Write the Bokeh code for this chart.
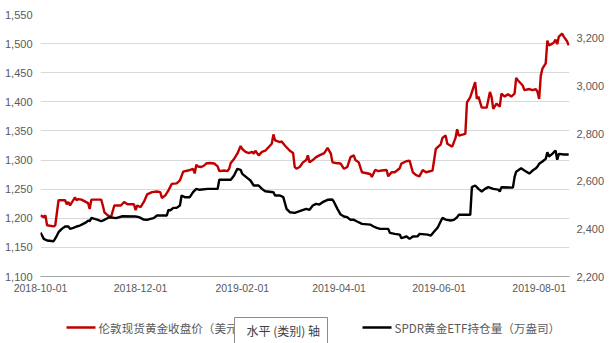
import pandas as pd
from bokeh.plotting import figure
from bokeh.layouts import column
from bokeh.models import (Range1d, LinearAxis, FixedTicker, NumeralTickFormatter,
                          DatetimeTickFormatter, ColumnDataSource)
from bokeh.core.properties import value
from bokeh.embed import file_html
from bokeh.resources import INLINE

# ---------------- data ----------------
gold_label = "伦敦现货黄金收盘价（美元/盎司）"
etf_label = "SPDR黄金ETF持仓量（万盎司）"

gold_dates = ["2018-10-01","2018-10-03","2018-10-04","2018-10-05","2018-10-09","2018-10-10","2018-10-12","2018-10-16",
"2018-10-17","2018-10-18","2018-10-19","2018-10-21","2018-10-22","2018-10-23","2018-10-24","2018-10-26","2018-10-28",
"2018-10-30","2018-10-31","2018-11-01","2018-11-07","2018-11-08","2018-11-09","2018-11-11","2018-11-13","2018-11-15",
"2018-11-19","2018-11-21","2018-11-23","2018-11-27","2018-11-28","2018-11-29","2018-12-01","2018-12-03","2018-12-05",
"2018-12-08","2018-12-11","2018-12-13","2018-12-14","2018-12-16","2018-12-18","2018-12-20","2018-12-23","2018-12-25",
"2018-12-27","2018-12-30","2019-01-02","2019-01-03","2019-01-04","2019-01-05","2019-01-07","2019-01-09","2019-01-10",
"2019-01-12","2019-01-15","2019-01-17","2019-01-18","2019-01-21","2019-01-23","2019-01-24","2019-01-25","2019-01-27",
"2019-01-29","2019-01-31","2019-02-01","2019-02-03","2019-02-05","2019-02-07","2019-02-08","2019-02-09","2019-02-11",
"2019-02-13","2019-02-15","2019-02-17","2019-02-19","2019-02-20","2019-02-21","2019-02-24","2019-02-25","2019-02-27",
"2019-03-02","2019-03-04","2019-03-05","2019-03-06","2019-03-08","2019-03-10","2019-03-12","2019-03-13","2019-03-14",
"2019-03-16","2019-03-18","2019-03-20","2019-03-23","2019-03-25","2019-03-27","2019-03-28","2019-03-30","2019-04-02",
"2019-04-04","2019-04-06","2019-04-08","2019-04-10","2019-04-11","2019-04-13","2019-04-15","2019-04-20","2019-04-21",
"2019-04-23","2019-04-25","2019-04-27","2019-04-30","2019-05-01","2019-05-03","2019-05-05","2019-05-08","2019-05-09",
"2019-05-12","2019-05-14","2019-05-16","2019-05-18","2019-05-20","2019-05-22","2019-05-24","2019-05-28","2019-05-30",
"2019-06-02","2019-06-03","2019-06-05","2019-06-06","2019-06-09","2019-06-11","2019-06-12","2019-06-13","2019-06-17",
"2019-06-18","2019-06-20","2019-06-23","2019-06-24","2019-06-25","2019-06-27","2019-06-30","2019-07-02","2019-07-03",
"2019-07-04","2019-07-06","2019-07-08","2019-07-09","2019-07-11","2019-07-13","2019-07-15","2019-07-17","2019-07-18",
"2019-07-19","2019-07-21","2019-07-22","2019-07-23","2019-07-26","2019-07-28","2019-07-30","2019-07-31","2019-08-01",
"2019-08-02","2019-08-03","2019-08-05","2019-08-06","2019-08-07","2019-08-09","2019-08-10","2019-08-11","2019-08-12",
"2019-08-13","2019-08-15","2019-08-16","2019-08-18","2019-08-19"]
gold_prices = [1205,1202,1205,1188,1186,1188,1231,1231,
1224,1228,1222,1231,1236,1231,1233,1232,1229,
1226,1216,1232,1232,1222,1210,1205,1202,1222,
1222,1228,1224,1224,1214,1222,1219,1228,1241,
1245,1246,1245,1235,1239,1248,1259,1260,1265,
1280,1282,1285,1277,1292,1289,1288,1291,1294,
1295,1294,1289,1281,1282,1281,1285,1295,1302,
1311,1324,1319,1314,1312,1314,1311,1316,1308,
1314,1316,1322,1328,1344,1334,1331,1332,1325,
1316,1312,1288,1285,1288,1296,1300,1308,1296,
1300,1305,1308,1312,1321,1311,1296,1295,1294,
1285,1288,1305,1308,1300,1296,1279,1276,1271,
1283,1281,1282,1283,1272,1279,1279,1286,1294,
1298,1299,1279,1274,1272,1283,1279,1282,1319,
1327,1338,1342,1328,1323,1338,1353,1342,1345,
1399,1408,1434,1405,1409,1390,1390,1417,1408,
1388,1397,1392,1414,1409,1413,1409,1414,1441,
1437,1431,1428,1420,1422,1420,1422,1417,1405,
1445,1457,1466,1505,1497,1500,1502,1507,1499,
1512,1517,1512,1504,1497]

etf_dates = ["2018-10-01","2018-10-02","2018-10-03","2018-10-05","2018-10-09","2018-10-11","2018-10-12","2018-10-14",
"2018-10-16","2018-10-18","2018-10-19","2018-10-21","2018-10-23","2018-10-25","2018-10-27","2018-10-29","2018-10-30",
"2018-10-31","2018-11-01","2018-11-03","2018-11-05","2018-11-07","2018-11-09","2018-11-12","2018-11-16","2018-11-20",
"2018-11-28","2018-11-30","2018-12-03","2018-12-05","2018-12-07","2018-12-09","2018-12-11","2018-12-17","2018-12-18",
"2018-12-19","2018-12-21","2018-12-23","2018-12-25","2018-12-26","2018-12-28","2018-12-31","2019-01-02","2019-01-04",
"2019-01-06","2019-01-11","2019-01-17","2019-01-18","2019-01-25","2019-01-27","2019-01-29","2019-01-31","2019-02-01",
"2019-02-04","2019-02-06","2019-02-08","2019-02-11","2019-02-13","2019-02-15","2019-02-20","2019-02-21","2019-02-24",
"2019-02-26","2019-02-28","2019-03-02","2019-03-05","2019-03-08","2019-03-12","2019-03-14","2019-03-16","2019-03-18",
"2019-03-20","2019-03-22","2019-03-25","2019-03-28","2019-03-29","2019-03-31","2019-04-02","2019-04-04","2019-04-06",
"2019-04-08","2019-04-10","2019-04-12","2019-04-15","2019-04-20","2019-04-22","2019-04-24","2019-04-26","2019-05-01",
"2019-05-02","2019-05-05","2019-05-08","2019-05-09","2019-05-11","2019-05-12","2019-05-14","2019-05-16","2019-05-19",
"2019-05-20","2019-05-25","2019-05-27","2019-05-29","2019-05-31","2019-06-03","2019-06-05","2019-06-08","2019-06-10",
"2019-06-12","2019-06-13","2019-06-20","2019-06-21","2019-06-23","2019-06-25","2019-06-27","2019-06-29","2019-07-01",
"2019-07-04","2019-07-07","2019-07-08","2019-07-09","2019-07-16","2019-07-17","2019-07-18","2019-07-21","2019-07-23",
"2019-07-26","2019-07-28","2019-07-30","2019-07-31","2019-08-01","2019-08-03","2019-08-05","2019-08-06","2019-08-07",
"2019-08-09","2019-08-11","2019-08-12","2019-08-13","2019-08-16","2019-08-19"]
etf_holdings = [2384,2372,2358,2351,2348,2372,2386,2400,
2410,2410,2400,2404,2410,2414,2421,2428,2435,
2432,2446,2442,2438,2432,2438,2449,2445,2453,
2452,2449,2439,2438,2442,2445,2456,2456,2480,
2477,2488,2488,2498,2540,2533,2533,2554,2568,
2564,2568,2568,2606,2606,2624,2652,2648,2631,
2614,2603,2582,2582,2568,2558,2554,2540,2540,
2533,2484,2470,2467,2474,2484,2480,2498,2505,
2502,2512,2522,2523,2512,2484,2460,2452,2449,
2438,2438,2431,2421,2418,2410,2404,2400,2400,
2383,2379,2376,2361,2365,2369,2358,2368,2369,
2379,2376,2372,2389,2404,2446,2439,2435,2438,
2449,2459,2459,2575,2582,2568,2557,2568,2575,
2568,2565,2557,2575,2573,2617,2640,2654,2645,
2632,2645,2654,2662,2673,2683,2694,2722,2704,
2715,2729,2690,2715,2712,2712]

x_tick_dates = ["2018-10-01","2018-12-01","2019-02-01","2019-04-01","2019-06-01","2019-08-01"]
left_ticks = [1100,1150,1200,1250,1300,1350,1400,1450,1500,1550]
right_ticks = [2200,2400,2600,2800,3000,3200]
tooltip_text = "水平 (类别) 轴"

# ---------------- main chart ----------------
FONT = "Noto Sans CJK SC"
NUMFONT = "Liberation Sans"
GRAY = "#595959"
RED = "#c00000"
BLACK = "#000000"

p = figure(width=614, height=300, x_axis_type="datetime", output_backend="svg",
           toolbar_location=None,
           x_range=Range1d(pd.Timestamp("2018-10-01"), pd.Timestamp("2019-08-19 12:00")),
           y_range=Range1d(left_ticks[0], left_ticks[-1]),
           min_border_left=40, min_border_right=45, min_border_top=14, min_border_bottom=24)
p.outline_line_color = None
p.extra_y_ranges = {"right": Range1d(right_ticks[0], 3300)}

gold_src = ColumnDataSource(dict(x=pd.to_datetime(gold_dates), y=gold_prices))
etf_src = ColumnDataSource(dict(x=pd.to_datetime(etf_dates), y=etf_holdings))

p.line("x", "y", source=gold_src, line_color=RED, line_width=2.4)
p.line("x", "y", source=etf_src, line_color=BLACK, line_width=2.4, y_range_name="right")

def style_axis(ax, size, standoff):
    ax.major_tick_line_color = None
    ax.minor_tick_line_color = None
    ax.major_tick_out = 0
    ax.major_tick_in = 0
    ax.minor_tick_out = 0
    ax.minor_tick_in = 0
    ax.major_label_text_color = GRAY
    ax.major_label_text_font = NUMFONT
    ax.major_label_text_font_size = size
    ax.major_label_standoff = standoff

xa = p.xaxis[0]
xa.ticker = FixedTicker(ticks=[pd.Timestamp(d).value / 1e6 for d in x_tick_dates])
xa.formatter = DatetimeTickFormatter(days="%Y-%m-%d", months="%Y-%m-%d", years="%Y-%m-%d")
xa.axis_line_color = "#a6a6a6"
style_axis(xa, "10.5px", 7)

ya = p.yaxis[0]
ya.ticker = FixedTicker(ticks=left_ticks)
ya.formatter = NumeralTickFormatter(format="0,0")
ya.axis_line_color = None
style_axis(ya, "11px", 8)

ra = LinearAxis(y_range_name="right", ticker=FixedTicker(ticks=right_ticks),
                formatter=NumeralTickFormatter(format="0,0"))
ra.axis_line_color = None
style_axis(ra, "11px", 7)
p.add_layout(ra, "right")

p.xgrid.visible = False
p.ygrid.ticker = FixedTicker(ticks=left_ticks)
p.ygrid.grid_line_color = "#d9d9d9"
p.ygrid.grid_line_width = 1

# ---------------- legend strip (frame aligned with main chart: x 40..569, 1 unit = 1 px) ----------------
lg = figure(width=614, height=43, output_backend="svg", toolbar_location=None,
            x_range=Range1d(0, 529), y_range=Range1d(0, 43),
            min_border_left=40, min_border_right=45, min_border_top=0, min_border_bottom=0)
lg.axis.visible = False
lg.grid.visible = False
lg.outline_line_color = None

# legend swatches + labels (drawn in order so the hover-tip box covers them)
lg.segment(x0=[26, 322], y0=[16, 16], x1=[55, 351], y1=[16, 16],
           line_color=[RED, BLACK], line_width=2.4)
lg.text(x=[58, 354], y=[16, 16], text=[gold_label, etf_label],
        text_font=value(FONT), text_font_size=value("11.6px"), text_color=GRAY,
        text_baseline="middle", text_align="left")

# hover-tip box on top of the legend
lg.quad(left=[194], right=[287], bottom=[-3], top=[26], fill_color="white",
        line_color="#8c8c8c", line_width=1)
lg.text(x=[206], y=[13], text=[tooltip_text],
        text_font=value(FONT), text_font_size=value("12px"), text_color="#404040",
        text_baseline="middle", text_align="left")

layout = column(p, lg, spacing=0)
open("out.html", "w").write(file_html(layout, INLINE))
